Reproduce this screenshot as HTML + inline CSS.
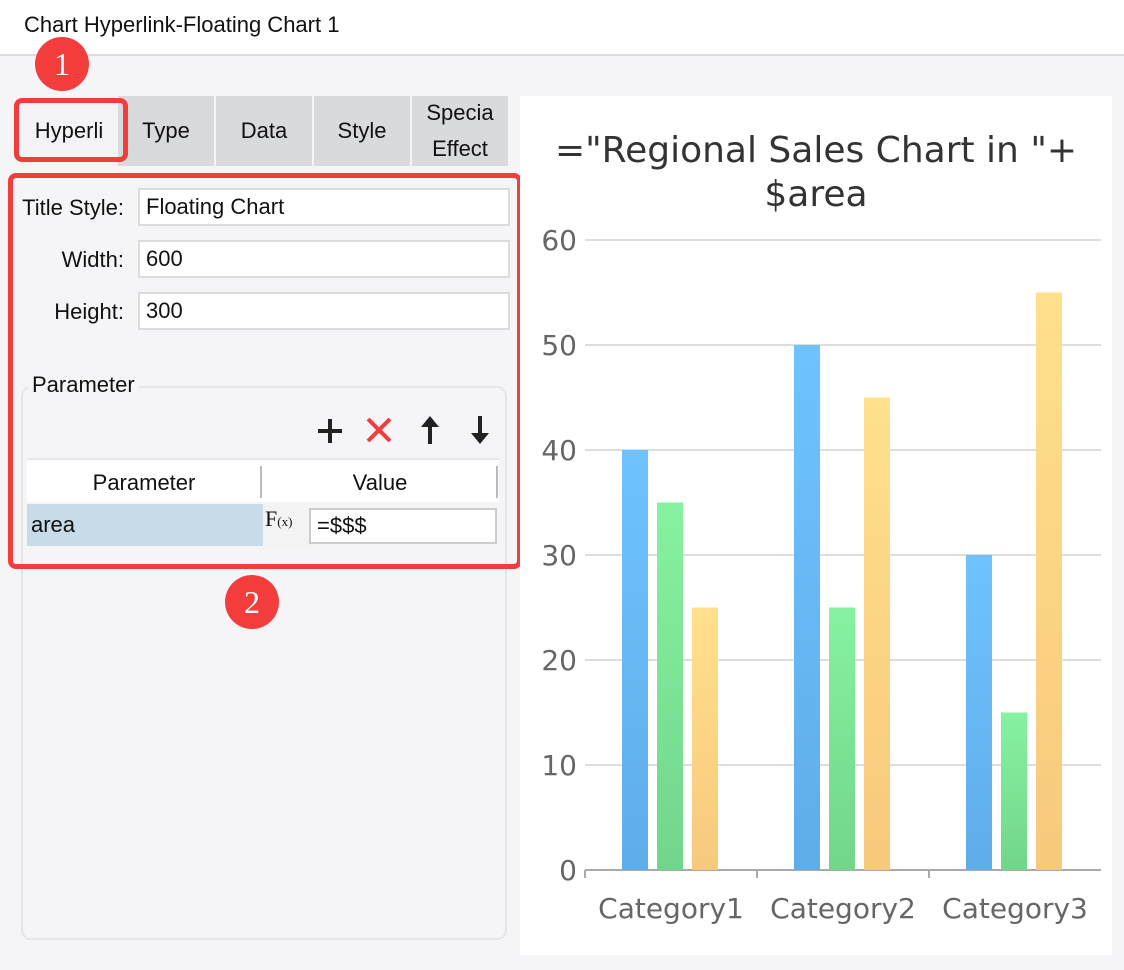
<!DOCTYPE html>
<html><head><meta charset="utf-8"><style>
body{margin:0;width:1124px;height:970px;background:#f5f5f7;font-family:"Liberation Sans",Arial,sans-serif;position:relative;overflow:hidden;color:#111}
.abs{position:absolute}
.title{left:0;top:0;width:1124px;height:54px;background:#fff;border-bottom:2px solid #dcdcdc}
.title span{position:absolute;left:24px;top:12px;font-size:22px}
.tab{top:96px;height:70px;background:#d9dadd;font-size:22px;display:flex;align-items:center;justify-content:center;text-align:center;line-height:36px}
.lbl{font-size:22px;text-align:right;width:112px;left:12px}
.inp{left:138px;width:372px;height:38px;background:#fff;border:2px solid #dcdcdc;box-sizing:border-box;font-size:22px;padding:4px 6px}
.badge{width:54px;height:54px;border-radius:50%;background:#f33c3c;color:#fff;font-family:"Liberation Serif",serif;font-size:32px;display:flex;align-items:center;justify-content:center}
</style></head><body>
<div class="abs title"><span>Chart Hyperlink-Floating Chart 1</span></div>
<div class="abs tab" style="left:20px;width:98px;background:#f3f3f5">Hyperli</div>
<div class="abs tab" style="left:118px;width:96px">Type</div>
<div class="abs tab" style="left:216px;width:96px">Data</div>
<div class="abs tab" style="left:314px;width:96px">Style</div>
<div class="abs tab" style="left:412px;width:96px">Specia<br>Effect</div>
<div class="abs" style="left:14px;top:98px;width:114px;height:64px;border:5px solid #f33c3c;border-radius:8px;box-sizing:border-box"></div>
<div class="abs badge" style="left:35px;top:37px">1</div>
<div class="abs lbl" style="top:195px">Title Style:</div>
<div class="abs inp" style="top:188px">Floating Chart</div>
<div class="abs lbl" style="top:247px">Width:</div>
<div class="abs inp" style="top:240px">600</div>
<div class="abs lbl" style="top:299px">Height:</div>
<div class="abs inp" style="top:292px">300</div>
<div class="abs" style="left:21px;top:386px;width:486px;height:554px;border:2px solid #e6e6ea;border-radius:10px;box-sizing:border-box"></div>
<div class="abs" style="left:28px;top:372px;font-size:22px;background:#f5f5f7;padding:0 4px">Parameter</div>
<svg class="abs" style="left:310px;top:410px" width="190" height="40">
<g><path d="M20 9v24M8 21h24" stroke="#222" stroke-width="4"/></g>
<g><path d="M58 9l22 22M80 9l-22 22" stroke="#f33c3c" stroke-width="4"/></g>
<g><path d="M120 34V14" stroke="#222" stroke-width="4"/><path d="M111 17l9-11 9 11z" fill="#222"/></g>
<g><path d="M170 6v20" stroke="#222" stroke-width="4"/><path d="M161 23l9 11 9-11z" fill="#222"/></g>
</svg>
<div class="abs" style="left:27px;top:458px;width:472px;height:478px;background:#f5f5f7;border-top:2px solid #e6e6ea">
<div class="abs" style="left:0;top:0;width:472px;height:42px;background:#fff"></div>
<div class="abs" style="left:0;top:10px;width:234px;text-align:center;font-size:22px">Parameter</div>
<div class="abs" style="left:233px;top:6px;width:2px;height:32px;background:#bbb"></div>
<div class="abs" style="left:235px;top:10px;width:236px;text-align:center;font-size:22px">Value</div>
<div class="abs" style="left:469px;top:6px;width:2px;height:32px;background:#bbb"></div>
<div class="abs" style="left:0;top:44px;width:236px;height:42px;background:#c8dbe9;font-size:22px;padding:8px 4px;box-sizing:border-box">area</div>
<div class="abs" style="left:236px;top:44px;width:44px;height:42px;background:#f3f3f3;font-family:'Liberation Serif',serif;font-size:22px;padding:2px">F<span style="font-size:13px">(x)</span></div>
<div class="abs" style="left:282px;top:48px;width:188px;height:36px;background:#fff;border:2px solid #ccc;box-sizing:border-box;font-size:22px;padding:3px 6px">=$$$</div>
</div>
<div class="abs" style="left:8px;top:173px;width:514px;height:396px;border:5px solid #f33c3c;border-radius:8px;box-sizing:border-box"></div>
<div class="abs badge" style="left:225px;top:575px">2</div>
<div class="abs" style="left:520px;top:96px;width:592px;height:859px;background:#fff">
<svg id="chart" width="592" height="859"></svg>
</div>
<script>
const categories=["Category1","Category2","Category3"];
const series1=[40,50,30];
const series2=[35,25,15];
const series3=[25,45,55];
const yTicks=[0,10,20,30,40,50,60];
const NS="http://www.w3.org/2000/svg";
const svg=document.getElementById('chart');
const OX=520,OY=96;
const x0=585-OX,x1=1101-OX,yb=870-OY,yt=240-OY;
const y=v=>yb-(v/60)*(yb-yt);
const band=(x1-x0)/categories.length;
function mk(t,a){const e=document.createElementNS(NS,t);for(const k in a)e.setAttribute(k,a[k]);svg.appendChild(e);return e;}
const defs=mk('defs',{});
[['gb','#6ec3ff','#5fade8'],['gg','#86f2a0','#72d58b'],['go','#ffe08c','#f7c97c']].forEach(([id,a,b])=>{
 const g=document.createElementNS(NS,'linearGradient');g.setAttribute('id',id);g.setAttribute('x1','0');g.setAttribute('y1','0');g.setAttribute('x2','0');g.setAttribute('y2','1');
 g.innerHTML=`<stop offset="0" stop-color="${a}"/><stop offset="1" stop-color="${b}"/>`;defs.appendChild(g);});
const t1=mk('text',{x:296,y:66,'text-anchor':'middle','font-size':36,fill:'#333','font-family':'DejaVu Sans,sans-serif'});t1.textContent='="Regional Sales Chart in "+';


const t2=mk('text',{x:296,y:110,'text-anchor':'middle','font-size':36,fill:'#333','font-family':'DejaVu Sans,sans-serif'});t2.textContent='$area';


yTicks.forEach(v=>{
 const l=mk('line',{x1:x0,x2:x1,y1:y(v),y2:y(v),stroke:v===0?'#aaa':'#ddd','stroke-width':2});
 
 
 const t=mk('text',{x:x0-8,y:y(v)+10,'text-anchor':'end','font-size':28,fill:'#666','font-family':'DejaVu Sans,sans-serif'});t.textContent=v;
 
 
});
[series1,series2,series3].forEach((s,si)=>{
 s.forEach((v,ci)=>{
  const r=mk('rect',{x:x0+ci*band+37+si*35,y:y(v),width:26,height:yb-y(v),fill:'url(#'+['gb','gg','go'][si]+')'});
  
  
 });
});
categories.forEach((c,i)=>{
 const tk=mk('line',{x1:x0+i*band,x2:x0+i*band,y1:yb,y2:yb+8,stroke:'#aaa','stroke-width':2});
 
 
 const t=mk('text',{x:x0+i*band+band/2,y:yb+48,'text-anchor':'middle','font-size':28,fill:'#666','font-family':'DejaVu Sans,sans-serif'});t.textContent=c;
 
 
});
</script>
</body></html>
